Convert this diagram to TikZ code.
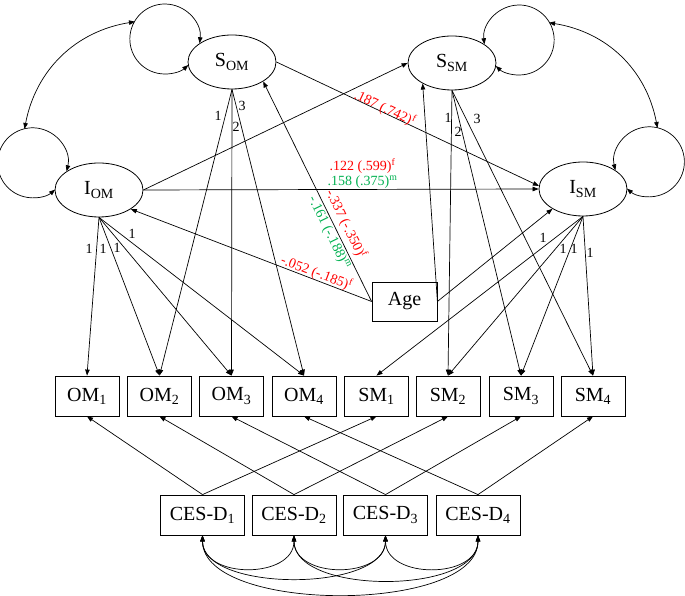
\documentclass[tikz,border=0pt]{standalone}
\usepackage{fontspec}
\setmainfont{Liberation Serif}
\usetikzlibrary{shapes.geometric,arrows.meta}
\definecolor{cred}{RGB}{255,0,0}
\definecolor{cgreen}{RGB}{0,176,80}
\begin{document}
\begin{tikzpicture}[x=1pt,y=1pt,
  lat/.style={ellipse,draw,line width=0.8pt,minimum width=88pt,minimum height=54pt,inner sep=0pt,font=\fontsize{20}{24}\selectfont},
  obs/.style={rectangle,draw,line width=0.8pt,minimum width=64pt,minimum height=40pt,inner sep=0pt,font=\fontsize{20}{24}\selectfont},
  cesbox/.style={obs,minimum width=84pt},
  agebox/.style={obs,minimum width=65pt,minimum height=39pt},
  pth/.style={line width=0.7pt,-{Triangle[length=6pt,width=4.5pt]}},
  cov/.style={line width=0.7pt,{Triangle[length=6pt,width=4.5pt]}-{Triangle[length=6pt,width=4.5pt]}},
  lbl/.style={font=\fontsize{14}{16}\selectfont,inner sep=0pt},
  redl/.style={lbl,text=cred},
  grnl/.style={lbl,text=cgreen}
]
\useasboundingbox (0,0) rectangle (685,596);
% latent factors
\node[lat] (SOM) at (232,534) {S\textsubscript{OM}};
\node[lat] (IOM) at (99,406) {I\textsubscript{OM}};
\node[lat] (SSM) at (452,533) {S\textsubscript{SM}};
\node[lat] (ISM) at (583,407) {I\textsubscript{SM}};
\node[agebox] (Age) at (404.5,294.5) {Age};
% observed
\node[obs] (OM1) at (87,200) {OM\textsubscript{1}};
\node[obs] (OM2) at (159.5,200) {OM\textsubscript{2}};
\node[obs] (OM3) at (231.5,200) {OM\textsubscript{3}};
\node[obs] (OM4) at (304,200) {OM\textsubscript{4}};
\node[obs] (SM1) at (376.5,200) {SM\textsubscript{1}};
\node[obs] (SM2) at (448,200) {SM\textsubscript{2}};
\node[obs] (SM3) at (521,200) {SM\textsubscript{3}};
\node[obs] (SM4) at (593,200) {SM\textsubscript{4}};
\node[cesbox] (C1) at (202.5,81) {CES-D\textsubscript{1}};
\node[cesbox] (C2) at (294,81) {CES-D\textsubscript{2}};
\node[cesbox] (C3) at (385.5,81) {CES-D\textsubscript{3}};
\node[cesbox] (C4) at (478,81) {CES-D\textsubscript{4}};
% residual loops
\draw[cov] (SOM.150) arc[start angle=-7,end angle=312,radius=35];
\draw[cov] (IOM.150) arc[start angle=-14,end angle=310,radius=35];
\draw[cov] (SSM.30) arc[start angle=187,end angle=-132,radius=35];
\draw[cov] (ISM.30) arc[start angle=194,end angle=-130,radius=35];
\coordinate (kSOM) at (135,574.3);
\coordinate (kIOM) at (24.5,467);
\coordinate (kSSM) at (549,573.3);
\coordinate (kISM) at (657.5,468);
\draw[cov] (kSOM) to[bend right=35] (kIOM);
\draw[cov] (kSSM) to[bend left=35] (kISM);
% loadings
\foreach \t in {OM1,OM2,OM3,OM4} \draw[pth] (IOM.south) -- (\t.north);
\foreach \t in {OM2,OM3,OM4} \draw[pth] (SOM.south) -- (\t.north);
\foreach \t in {SM1,SM2,SM3,SM4} \draw[pth] (ISM.south) -- (\t.north);
\foreach \t in {SM2,SM3,SM4} \draw[pth] (SSM.south) -- (\t.north);
% structural paths
\draw[pth] (IOM.east) -- (ISM.west);
\draw[pth] (IOM.east) -- (SSM.west);
\draw[pth] (SOM.east) -- (ISM.176);
\draw[pth] (Age.west) -- (SOM.-32);
\draw[pth] (Age.west) -- (IOM.-31);
\draw[pth] (Age.east) -- (SSM.215);
\draw[pth] (Age.east) -- (ISM.213);
% CES-D to observed
\draw[pth] (C1.north) -- (OM1.south);
\draw[pth] (C1.north) -- (SM1.south);
\draw[pth] (C2.north) -- (OM2.south);
\draw[pth] (C2.north) -- (SM2.south);
\draw[pth] (C3.north) -- (OM3.south);
\draw[pth] (C3.north) -- (SM3.south);
\draw[pth] (C4.north) -- (OM4.south);
\draw[pth] (C4.north) -- (SM4.south);
% CES-D covariances
\draw[cov] (C1.south) to[out=-90,in=-90,looseness=1.23] (C2.south);
\draw[cov] (C2.south) to[out=-90,in=-90,looseness=1.23] (C3.south);
\draw[cov] (C3.south) to[out=-90,in=-90,looseness=1.22] (C4.south);
\draw[cov] (C1.south) to[out=-90,in=-90,looseness=0.8] (C3.south);
\draw[cov] (C2.south) to[out=-90,in=-90,looseness=0.83] (C4.south);
\draw[cov] (C1.south) to[out=-90,in=-90,looseness=0.73] (C4.south);
% loading labels
\node[lbl] (l1) at (89,347) {1};
\node[lbl] (l2) at (103,347) {1};
\node[lbl] (l3) at (117,348) {1};
\node[lbl] (l4) at (132,362) {1};
\node[lbl] (l5) at (218,480) {1};
\node[lbl] (l6) at (236,469) {2};
\node[lbl] (l7) at (242,490) {3};
\node[lbl] (l8) at (448,478) {1};
\node[lbl] (l9) at (458,464) {2};
\node[lbl] (l10) at (477,477) {3};
\node[lbl] (l11) at (543,358) {1};
\node[lbl] (l12) at (563,347) {1};
\node[lbl] (l13) at (574,347) {1};
\node[lbl] (l14) at (590,343) {1};
% coefficient labels
\node[redl,rotate=-25.2] (p187) at (385,487.7) {.187 (.742)\textsuperscript{f}};
\node[redl] (p122) at (362.5,430) {.122 (.599)\textsuperscript{f}};
\node[grnl] (p158) at (362.5,413.5) {.158 (.375)\textsuperscript{m}};
\node[redl,rotate=-64] (p337) at (346.3,372) {-.337 (-.350)\textsuperscript{f}};
\node[grnl,rotate=-64] (p161) at (329,363) {-.161 (-.188)\textsuperscript{m}};
\node[redl,rotate=-20.8] (p052) at (316.7,323.3) {-.052 (-.185)\textsuperscript{f}};
\end{tikzpicture}
\end{document}
